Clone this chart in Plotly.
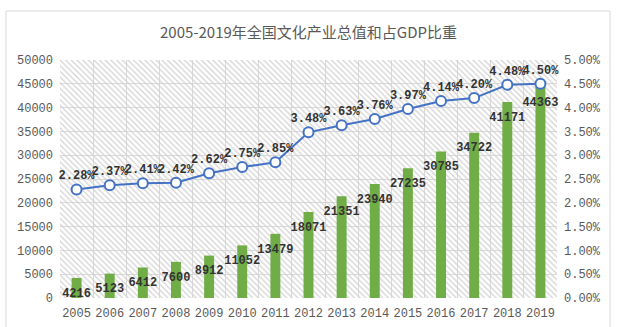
import plotly.graph_objects as go

years = ["2005", "2006", "2007", "2008", "2009", "2010", "2011", "2012",
         "2013", "2014", "2015", "2016", "2017", "2018", "2019"]
values = [4216, 5123, 6412, 7600, 8912, 11052, 13479, 18071,
          21351, 23940, 27235, 30785, 34722, 41171, 44363]
share_pct = [2.28, 2.37, 2.41, 2.42, 2.62, 2.75, 2.85, 3.48,
             3.63, 3.76, 3.97, 4.14, 4.20, 4.48, 4.50]
title = "2005-2019年全国文化产业总值和占GDP比重"

xs = list(range(len(years)))
n = len(years)
share = [p / 100 for p in share_pct]

LABEL_FONT = dict(family="Liberation Mono, DejaVu Sans Mono", size=12, color="#333333", weight="bold")
TICK_FONT = dict(family="Liberation Mono, DejaVu Sans Mono", size=12, color="#595959")

fig = go.Figure()

# hatched plot background
fig.add_trace(go.Bar(
    x=[(n - 1) / 2], y=[50000], width=[n], base=[0],
    marker=dict(color="rgba(255,255,255,0)", line=dict(width=0),
                pattern=dict(shape="\\", fgcolor="#d2d2d2", bgcolor="rgba(255,255,255,0)",
                             size=4, solidity=0.3, fillmode="replace")),
    hoverinfo="skip", showlegend=False))

fig.add_trace(go.Bar(
    x=xs, y=values, width=[0.3] * n,
    marker=dict(color="#70AD47", line=dict(width=0)),
    showlegend=False))

fig.add_trace(go.Scatter(
    x=xs, y=values, mode="markers+text", text=[str(v) for v in values],
    marker=dict(size=14, opacity=0),
    textposition="bottom center", textfont=LABEL_FONT, cliponaxis=False,
    hoverinfo="skip", showlegend=False))

fig.add_trace(go.Scatter(
    x=xs, y=share, yaxis="y2", mode="lines+markers+text",
    text=[f"{p:.2f}%" for p in share_pct], textposition="top center",
    textfont=LABEL_FONT, cliponaxis=False,
    line=dict(color="#4472C4", width=2),
    marker=dict(size=10, color="white", line=dict(color="#4472C4", width=2)),
    showlegend=False))

fig.update_layout(
    width=621, height=327,
    margin=dict(l=60, r=64, t=60, b=29),
    paper_bgcolor="white", plot_bgcolor="white",
    barmode="overlay",
    title=dict(text=title, x=(308.5) / 621, xanchor="center", y=1 - 33 / 327, yanchor="middle",
               font=dict(family="Noto Sans CJK SC", size=15, color="#595959")),
    xaxis=dict(range=[-0.5, n - 0.5], tickmode="array", tickvals=xs, ticktext=years,
               showgrid=False, zeroline=False, showline=False, ticks="",
               tickfont=TICK_FONT, ticklabelstandoff=6, automargin=False,
               minor=dict(tickmode="array", tickvals=[i - 0.5 for i in range(n + 1)],
                          showgrid=True, gridcolor="#d9d9d9", gridwidth=1, ticks="")),
    yaxis=dict(range=[0, 50000], dtick=5000, tickformat="d", showgrid=True, gridcolor="#d9d9d9",
               zeroline=False, showline=False, ticks="", tickfont=TICK_FONT,
               ticklabelstandoff=6, automargin=False),
    yaxis2=dict(range=[0, 0.05], dtick=0.005, tickformat=".2%", overlaying="y", side="right",
                showgrid=False, zeroline=False, showline=False, ticks="", tickfont=TICK_FONT,
                ticklabelstandoff=6, automargin=False),
    shapes=[dict(type="rect", xref="paper", yref="paper",
                 x0=(6 - 60) / 497, x1=(610 - 60) / 497,
                 y0=(298 - 345) / 238, y1=(298 - 11) / 238,
                 line=dict(color="#d9d9d9", width=1), fillcolor="rgba(0,0,0,0)", layer="below")],
)

fig.write_html("out.html")
